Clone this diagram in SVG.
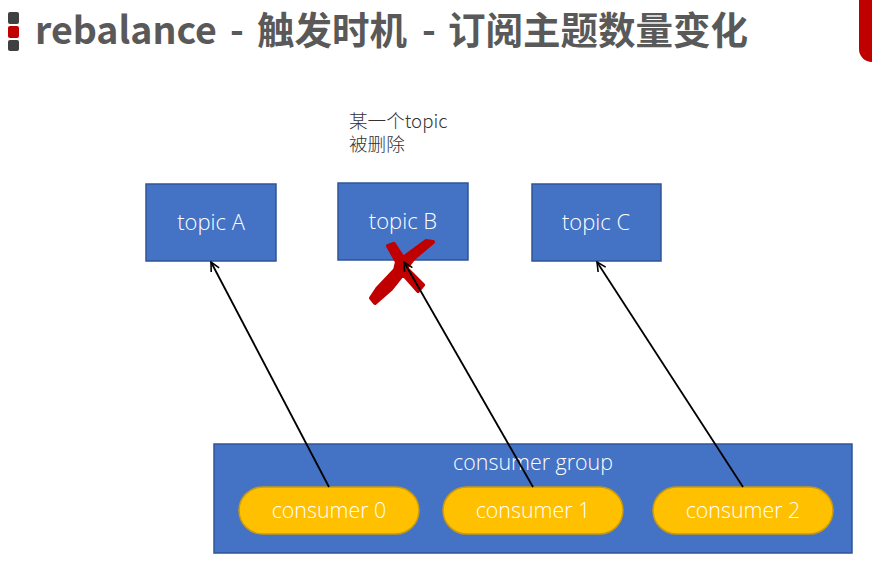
<svg xmlns="http://www.w3.org/2000/svg" width="872" height="566" viewBox="0 0 872 566">
<style>
.box{fill:#4472c4;stroke:#2f5597;stroke-width:1.5}
.pill{fill:#ffc000;stroke:#c89a10;stroke-width:1.5}
.lbl{font-family:"Open Sans","Noto Sans",sans-serif;font-weight:300;font-size:21.4px;fill:#fff;text-anchor:middle}
.big{font-size:22px}
.note{font-family:"Noto Sans CJK SC","Noto Sans",sans-serif;font-weight:300;font-size:18.6px;fill:#333}
.conn{stroke:#000;stroke-width:1.8;fill:none;marker-end:url(#a)}
</style>
<defs>
<marker id="a" markerWidth="12" markerHeight="12" refX="10.5" refY="6" orient="auto" markerUnits="userSpaceOnUse">
<path d="M1.5 1.5L10.5 6L1.5 10.5" fill="none" stroke="#000" stroke-width="1.6"/>
</marker>
</defs>
<rect width="872" height="566" fill="#fff"/>
<g id="logo">
<rect x="8" y="12" width="11" height="12" rx="2" fill="#404040"/>
<rect x="8" y="26" width="11" height="12" rx="2" fill="#c00000"/>
<rect x="8" y="40" width="11" height="11" rx="2" fill="#404040"/>
</g>
<text id="title" y="44" font-family="'Noto Sans CJK SC','Noto Sans',sans-serif" font-weight="700" font-size="37.5px" fill="#595959"><tspan x="35">rebalance</tspan><tspan x="230">-</tspan><tspan x="257">触发时机</tspan><tspan x="422">-</tspan><tspan x="448">订阅主题数量变化</tspan></text>
<path id="corner" d="M859 0H872V62A13 13 0 0 1 859 49Z" fill="#c00000"/>
<text id="note" class="note"><tspan x="349" y="128">某一个topic</tspan><tspan x="349" y="151">被删除</tspan></text>
<g id="topicA"><rect class="box" x="146" y="184" width="130" height="77"/><text class="lbl big" x="211" y="230">topic A</text></g>
<g id="topicB"><rect class="box" x="338" y="183" width="130" height="77"/><text class="lbl big" x="403" y="229">topic B</text></g>
<g id="topicC"><rect class="box" x="532" y="184" width="129" height="77"/><text class="lbl big" x="596" y="230">topic C</text></g>
<g id="group"><rect class="box" x="214" y="444" width="638" height="109"/><text class="lbl" x="533" y="470">consumer group</text></g>
<g id="consumer0"><rect class="pill" x="239" y="487" width="180" height="47" rx="23.5"/><text class="lbl" x="329" y="518">consumer 0</text></g>
<g id="consumer1"><rect class="pill" x="443" y="487" width="180" height="47" rx="23.5"/><text class="lbl" x="533" y="518">consumer 1</text></g>
<g id="consumer2"><rect class="pill" x="653" y="487" width="180" height="47" rx="23.5"/><text class="lbl" x="743" y="518">consumer 2</text></g>
<path id="cross" fill="#c00000" stroke="#c00000" stroke-width="4" stroke-linejoin="round" d="M388 246L394 244L403 258L426 241L433 242L414 258L406 268L423 285L418 291L403 274L391 289L375 303L371 298L377 289L395 270L397 262Z"/>
<g id="connectors">
<path class="conn" d="M329 487L211 262"/>
<path class="conn" d="M533 487L404 262"/>
<path class="conn" d="M743 487L597 262"/>
</g>
</svg>
